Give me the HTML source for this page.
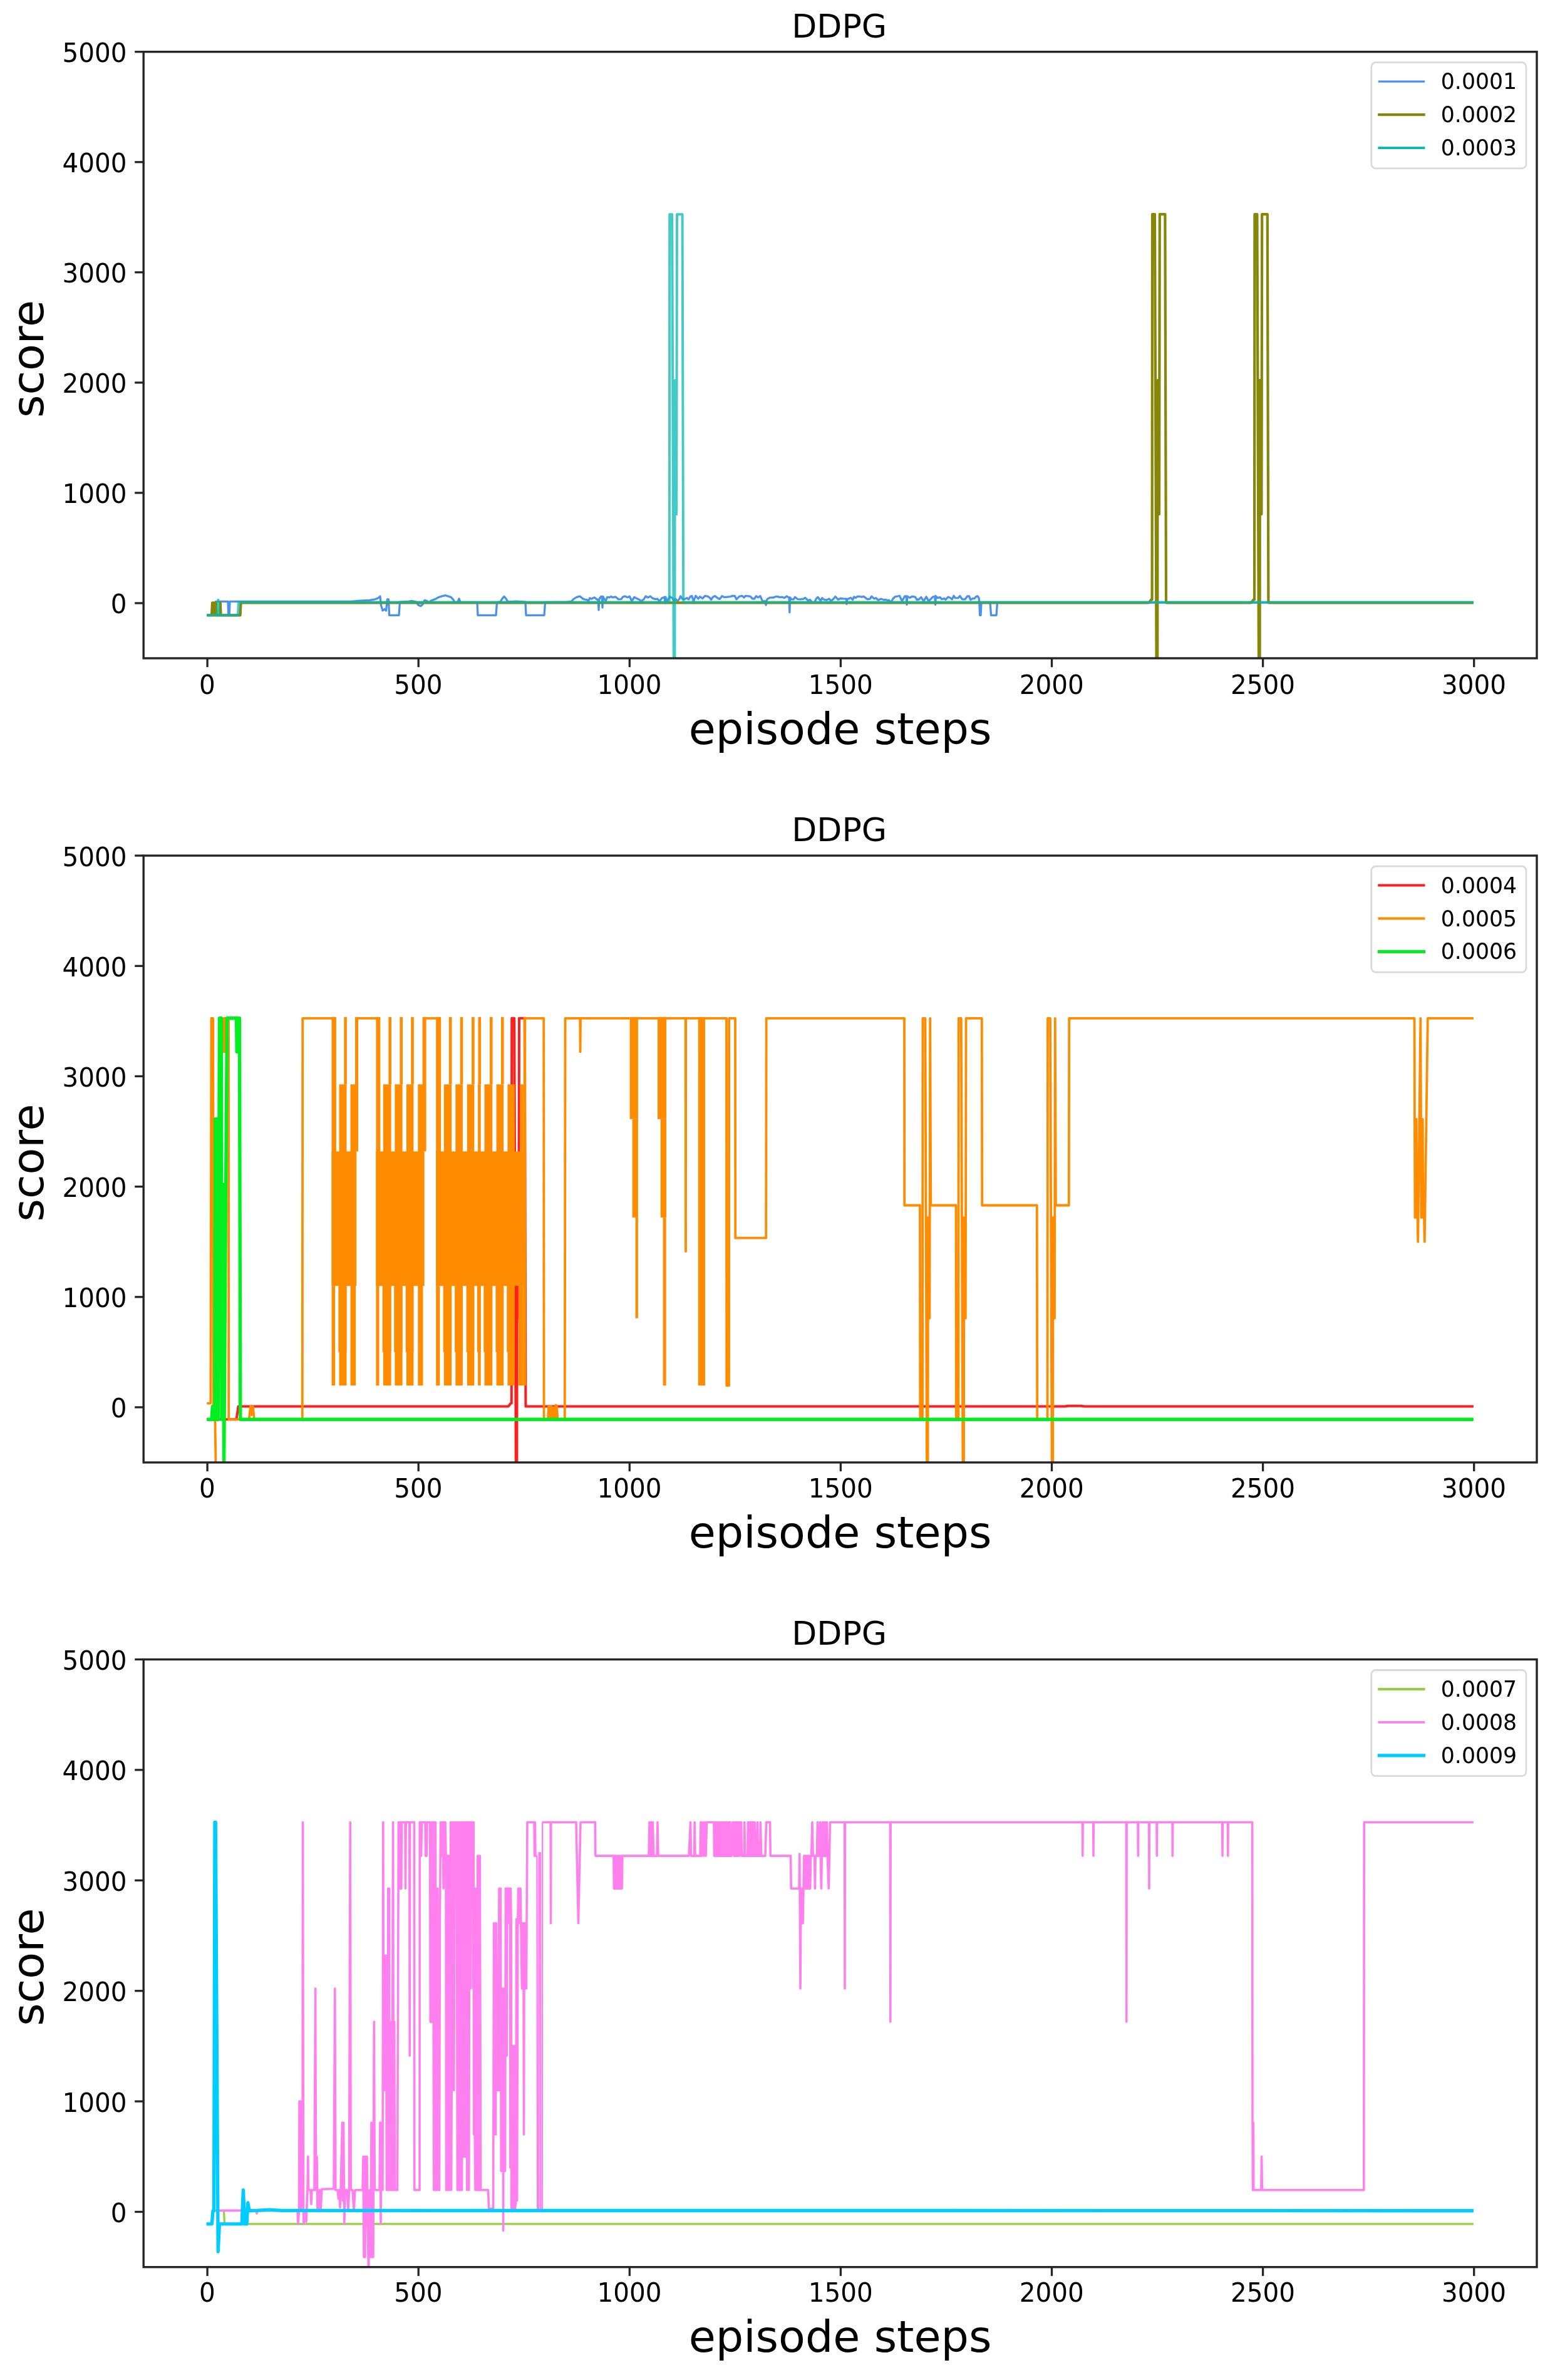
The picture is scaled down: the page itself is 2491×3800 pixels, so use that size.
<!DOCTYPE html>
<html><head><meta charset="utf-8"><title>DDPG</title>
<style>html,body{margin:0;padding:0;background:#fff}svg{display:block}</style></head><body>
<svg width="2491" height="3800" viewBox="0 0 2491 3800" style="filter:blur(0.7px)">
<rect width="2491" height="3800" fill="#fff"/>
<clipPath id="c0"><rect x="229.2" y="82.7" width="2224.8" height="968.3"/></clipPath>
<g clip-path="url(#c0)">
<path d="M330.3,982.3 L343.8,982.3 L344.6,960.3 L364.0,960.3 L364.8,982.3 L366.2,982.3 L367.0,960.3 L381.0,960.3 L560.0,960.3 L575.0,959.1 L590.0,958.4 L600.0,956.6 L605.0,954.2 L607.0,952.1 L608.5,966.5 L611.0,974.9 L614.0,972.7 L616.5,974.9 L618.5,957.0 L620.5,957.0 L621.5,982.3 L637.0,982.3 L638.5,961.2 L652.0,960.5 L658.0,959.5 L664.0,960.9 L668.0,966.1 L672.0,967.6 L675.0,964.7 L678.0,958.4 L682.0,959.5 L685.0,962.6 L688.0,959.1 L695.0,956.6 L700.0,953.8 L705.0,952.1 L711.0,950.6 L716.0,952.1 L720.0,953.3 L724.0,957.7 L726.0,961.9 L731.0,961.2 L733.0,955.9 L735.0,961.6 L762.0,961.6 L763.0,982.3 L792.0,982.3 L793.5,961.6 L799.0,960.9 L802.0,955.9 L805.0,952.4 L808.0,955.9 L811.0,960.9 L825.0,960.2 L839.0,961.2 L840.0,982.3 L869.0,982.3 L870.5,961.6 L905.0,961.2 L912.0,960.5 L916.0,956.3 L921.0,953.3 L926.0,952.1 L930.0,955.6 L933.9,957.2 L937.0,957.3 L939.3,959.8 L941.8,954.9 L944.3,956.2 L949.0,953.9 L953.7,957.4 L955.2,957.4 L956.0,973.9 L956.8,957.4 L956.7,956.8 L959.7,952.4 L961.2,952.4 L962.0,970.0 L962.8,952.4 L963.4,953.5 L967.0,959.8 L969.7,953.3 L972.7,953.9 L975.7,952.5 L978.6,953.9 L983.0,952.9 L987.8,956.9 L992.0,956.7 L994.3,953.3 L997.9,952.0 L1002.0,953.8 L1005.3,952.2 L1008.8,959.8 L1012.8,953.5 L1017.1,955.8 L1021.1,957.5 L1023.7,959.8 L1027.9,956.8 L1031.1,952.0 L1034.5,954.1 L1038.8,952.1 L1042.1,955.4 L1046.8,956.7 L1049.6,956.2 L1053.3,959.8 L1056.6,955.3 L1061.3,953.2 L1061.2,953.2 L1062.0,963.0 L1062.8,953.2 L1065.1,959.8 L1069.6,952.6 L1073.9,955.1 L1076.4,959.8 L1078.8,956.3 L1081.8,959.8 L1084.4,957.0 L1086.7,952.0 L1089.3,956.0 L1092.4,956.9 L1097.2,954.7 L1099.6,957.0 L1102.5,952.3 L1104.8,951.5 L1107.4,959.8 L1110.9,951.3 L1114.9,956.0 L1117.6,952.7 L1121.8,955.5 L1126.1,951.3 L1130.4,952.4 L1133.2,954.3 L1135.5,957.5 L1138.4,953.2 L1141.7,951.6 L1146.4,955.3 L1149.2,956.4 L1153.0,951.8 L1156.5,953.4 L1158.9,953.4 L1163.1,952.8 L1165.8,952.6 L1170.1,951.4 L1173.3,951.5 L1175.9,956.9 L1180.5,952.4 L1184.8,951.3 L1188.0,954.1 L1190.2,951.4 L1193.8,951.6 L1198.2,952.3 L1201.1,955.8 L1204.8,956.0 L1207.3,951.8 L1210.7,953.9 L1214.0,951.7 L1217.6,959.8 L1221.0,959.8 L1222.2,959.8 L1223.0,966.1 L1223.8,959.8 L1225.2,956.6 L1229.3,954.1 L1232.9,954.1 L1235.3,954.0 L1238.3,952.7 L1241.9,952.7 L1245.3,953.7 L1248.8,953.2 L1252.4,954.6 L1256.4,952.0 L1259.3,954.0 L1260.0,954.0 L1260.8,977.6 L1261.6,954.0 L1263.7,956.8 L1267.0,957.2 L1269.4,953.3 L1273.9,956.7 L1277.9,956.8 L1282.6,956.3 L1285.8,954.5 L1290.2,958.8 L1293.7,957.6 L1296.7,961.9 L1300.4,961.9 L1303.5,955.7 L1305.8,953.4 L1310.5,959.1 L1312.8,954.7 L1315.4,957.1 L1319.7,958.1 L1324.3,956.1 L1326.7,959.4 L1330.0,957.2 L1333.9,952.5 L1338.3,957.3 L1341.7,955.5 L1346.3,955.9 L1349.9,956.1 L1351.2,956.1 L1352.0,964.4 L1352.8,956.1 L1352.5,957.4 L1355.5,955.7 L1358.5,954.4 L1361.6,957.6 L1363.8,952.9 L1366.5,954.6 L1369.0,952.4 L1372.5,952.3 L1376.0,953.2 L1379.1,952.3 L1382.9,955.1 L1385.3,956.8 L1389.4,956.0 L1391.8,952.2 L1395.8,955.9 L1398.7,954.7 L1402.1,958.1 L1406.8,956.2 L1411.5,957.8 L1413.7,957.3 L1417.2,958.5 L1419.4,958.1 L1422.7,961.9 L1425.7,956.2 L1429.2,952.8 L1433.3,952.0 L1436.4,951.3 L1440.4,959.8 L1444.8,951.9 L1447.2,951.9 L1448.0,965.4 L1448.8,951.9 L1448.9,952.4 L1452.5,954.4 L1456.8,952.3 L1461.3,953.2 L1464.1,957.5 L1467.2,957.0 L1470.9,953.6 L1474.8,959.8 L1479.1,952.8 L1482.7,959.8 L1486.8,956.0 L1489.7,952.9 L1492.8,952.9 L1493.6,965.4 L1494.4,952.9 L1493.8,951.3 L1497.0,954.6 L1501.2,953.7 L1503.6,956.7 L1507.8,955.7 L1510.0,957.3 L1513.9,953.2 L1516.9,954.3 L1520.3,956.9 L1523.0,951.3 L1525.3,954.7 L1530.0,954.8 L1532.7,951.5 L1536.5,956.8 L1541.1,956.8 L1544.7,951.9 L1547.5,951.8 L1549.7,957.7 L1553.1,955.7 L1556.2,955.6 L1558.4,952.8 L1560.9,951.7 L1563.0,954.5 L1563.8,962.1 L1564.6,982.3 L1566.0,982.3 L1567.0,962.1 L1581.0,961.6 L1582.5,982.3 L1591.0,982.3 L1592.5,962.1 L2352.9,962.1" fill="none" stroke="#4a92ec" stroke-width="3.30" stroke-opacity="1.00" stroke-linejoin="round" stroke-linecap="butt"/>
<path d="M330.3,982.3 L338.0,982.3 L339.0,962.3 L340.0,982.3 L341.0,962.3 L342.0,982.3 L343.0,962.3 L344.0,982.3 L344.8,962.3 L345.6,982.3 L351.0,982.3 L351.8,962.3 L352.6,982.3 L383.6,982.3 L384.6,962.3 L1830.0,962.3 L1834.6,962.3 L1838.4,957.3 L1839.6,957.3 L1840.0,342.2 L1844.0,342.2 L1846.6,1058.0 L1848.2,1058.0 L1848.5,607.2 L1849.0,820.9 L1849.5,607.2 L1850.0,820.9 L1850.5,607.2 L1851.0,820.9 L1851.8,342.2 L1860.4,342.2 L1862.0,962.3 L1990.0,962.3 L1998.0,962.3 L2001.8,957.3 L2003.0,957.3 L2003.4,342.2 L2007.4,342.2 L2010.0,1058.0 L2011.6,1058.0 L2011.9,607.2 L2012.4,820.9 L2012.9,607.2 L2013.4,820.9 L2013.9,607.2 L2014.4,820.9 L2015.2,342.2 L2023.8,342.2 L2025.4,962.3 L2352.9,962.3" fill="none" stroke="#868608" stroke-width="4.20" stroke-opacity="1.00" stroke-linejoin="round" stroke-linecap="butt"/>
<path d="M330.3,982.3 L347.3,982.3 L348.4,957.7 L349.5,982.3 L380.0,982.3 L381.0,961.4 L1060.0,961.4 L1068.8,961.4 L1069.2,342.2 L1073.2,342.2 L1075.8,1058.0 L1077.4,1058.0 L1077.7,607.2 L1078.2,820.9 L1078.7,607.2 L1079.2,820.9 L1079.7,607.2 L1080.2,820.9 L1081.0,342.2 L1089.6,342.2 L1091.2,961.4 L2352.9,961.4" fill="none" stroke="#00b9b2" stroke-width="4.00" stroke-opacity="0.74" stroke-linejoin="round" stroke-linecap="butt"/>
</g>
<line x1="331.1" y1="1051.0" x2="331.1" y2="1065.2" stroke="#242424" stroke-width="3.3"/>
<text transform="translate(330.9,1107.6) scale(0.955,1)" font-size="42.4" text-anchor="middle" font-family="DejaVu Sans, Liberation Sans, sans-serif">0</text>
<line x1="668.2" y1="1051.0" x2="668.2" y2="1065.2" stroke="#242424" stroke-width="3.3"/>
<text transform="translate(668.0,1107.6) scale(0.955,1)" font-size="42.4" text-anchor="middle" font-family="DejaVu Sans, Liberation Sans, sans-serif">500</text>
<line x1="1005.3" y1="1051.0" x2="1005.3" y2="1065.2" stroke="#242424" stroke-width="3.3"/>
<text transform="translate(1005.1,1107.6) scale(0.955,1)" font-size="42.4" text-anchor="middle" font-family="DejaVu Sans, Liberation Sans, sans-serif">1000</text>
<line x1="1342.4" y1="1051.0" x2="1342.4" y2="1065.2" stroke="#242424" stroke-width="3.3"/>
<text transform="translate(1342.2,1107.6) scale(0.955,1)" font-size="42.4" text-anchor="middle" font-family="DejaVu Sans, Liberation Sans, sans-serif">1500</text>
<line x1="1679.5" y1="1051.0" x2="1679.5" y2="1065.2" stroke="#242424" stroke-width="3.3"/>
<text transform="translate(1679.3,1107.6) scale(0.955,1)" font-size="42.4" text-anchor="middle" font-family="DejaVu Sans, Liberation Sans, sans-serif">2000</text>
<line x1="2016.6" y1="1051.0" x2="2016.6" y2="1065.2" stroke="#242424" stroke-width="3.3"/>
<text transform="translate(2016.4,1107.6) scale(0.955,1)" font-size="42.4" text-anchor="middle" font-family="DejaVu Sans, Liberation Sans, sans-serif">2500</text>
<line x1="2353.7" y1="1051.0" x2="2353.7" y2="1065.2" stroke="#242424" stroke-width="3.3"/>
<text transform="translate(2353.5,1107.6) scale(0.955,1)" font-size="42.4" text-anchor="middle" font-family="DejaVu Sans, Liberation Sans, sans-serif">3000</text>
<line x1="215.2" y1="963.0" x2="229.2" y2="963.0" stroke="#242424" stroke-width="3.3"/>
<text transform="translate(202.4,979.4) scale(0.955,1)" font-size="42.4" text-anchor="end" font-family="DejaVu Sans, Liberation Sans, sans-serif">0</text>
<line x1="215.2" y1="786.9" x2="229.2" y2="786.9" stroke="#242424" stroke-width="3.3"/>
<text transform="translate(202.4,803.3) scale(0.955,1)" font-size="42.4" text-anchor="end" font-family="DejaVu Sans, Liberation Sans, sans-serif">1000</text>
<line x1="215.2" y1="610.9" x2="229.2" y2="610.9" stroke="#242424" stroke-width="3.3"/>
<text transform="translate(202.4,627.3) scale(0.955,1)" font-size="42.4" text-anchor="end" font-family="DejaVu Sans, Liberation Sans, sans-serif">2000</text>
<line x1="215.2" y1="434.8" x2="229.2" y2="434.8" stroke="#242424" stroke-width="3.3"/>
<text transform="translate(202.4,451.2) scale(0.955,1)" font-size="42.4" text-anchor="end" font-family="DejaVu Sans, Liberation Sans, sans-serif">3000</text>
<line x1="215.2" y1="258.8" x2="229.2" y2="258.8" stroke="#242424" stroke-width="3.3"/>
<text transform="translate(202.4,275.2) scale(0.955,1)" font-size="42.4" text-anchor="end" font-family="DejaVu Sans, Liberation Sans, sans-serif">4000</text>
<line x1="215.2" y1="82.7" x2="229.2" y2="82.7" stroke="#242424" stroke-width="3.3"/>
<text transform="translate(202.4,99.1) scale(0.955,1)" font-size="42.4" text-anchor="end" font-family="DejaVu Sans, Liberation Sans, sans-serif">5000</text>
<rect x="229.2" y="82.7" width="2224.8" height="968.3" fill="none" stroke="#242424" stroke-width="3.4"/>
<text x="1340.2" y="60.1" font-size="52" text-anchor="middle" font-family="DejaVu Sans, Liberation Sans, sans-serif">DDPG</text>
<text x="1341.6" y="1188.0" font-size="70" text-anchor="middle" font-family="DejaVu Sans, Liberation Sans, sans-serif">episode steps</text>
<text transform="translate(69.0,572.9) rotate(-90)" font-size="70" text-anchor="middle" font-family="DejaVu Sans, Liberation Sans, sans-serif">score</text>
<rect x="2189.8" y="99.7" width="247.2" height="169.2" rx="7" ry="7" fill="#fff" fill-opacity="0.8" stroke="#dadada" stroke-width="2.8"/>
<line x1="2202.3" y1="130.2" x2="2273.5" y2="130.2" stroke="#4a92ec" stroke-width="3.2" stroke-linecap="square"/>
<text x="2300.8" y="142.1" font-size="34.7" font-family="DejaVu Sans, Liberation Sans, sans-serif">0.0001</text>
<line x1="2202.3" y1="183.1" x2="2273.5" y2="183.1" stroke="#868608" stroke-width="4.4" stroke-linecap="square"/>
<text x="2300.8" y="195.1" font-size="34.7" font-family="DejaVu Sans, Liberation Sans, sans-serif">0.0002</text>
<line x1="2202.3" y1="236.1" x2="2273.5" y2="236.1" stroke="#00b9b2" stroke-width="3.8" stroke-linecap="square"/>
<text x="2300.8" y="248.0" font-size="34.7" font-family="DejaVu Sans, Liberation Sans, sans-serif">0.0003</text>
<clipPath id="c1"><rect x="229.2" y="1366.1" width="2224.8" height="968.9"/></clipPath>
<g clip-path="url(#c1)">
<path d="M330.3,2266.3 L377.5,2266.3 L380.5,2245.5 L808.0,2245.5 L811.8,2245.5 L815.6,2240.6 L816.8,2240.6 L817.2,1625.8 L821.2,1625.8 L823.8,2342.0 L825.4,2342.0 L825.7,1890.9 L826.2,2104.8 L826.7,1890.9 L827.2,2104.8 L827.7,1890.9 L828.2,2104.8 L829.0,1625.8 L837.8,1625.8 L839.4,2245.5 L1700.0,2245.5 L1706.0,2244.8 L1726.0,2244.8 L1732.0,2245.5 L2352.9,2245.5" fill="none" stroke="#ff1e1e" stroke-width="4.00" stroke-opacity="1.00" stroke-linejoin="round" stroke-linecap="butt"/>
<path d="M330.3,2240.6 L336.4,2240.6 L337.4,1625.8 L340.2,1625.8 L341.0,2266.3 L343.4,2266.3 L344.6,2342.0" fill="none" stroke="#ff8c00" stroke-width="3.80" stroke-opacity="1.00" stroke-linejoin="round" stroke-linecap="butt"/>
<path d="M355.8,1625.8 L356.4,1679.3 L357.1,1625.8 L357.9,1679.3 L358.6,1625.8 L359.4,1679.3 L360.1,1625.8 L361.0,1625.8 L365.0,1625.8 L365.2,2266.3 L397.7,2266.3 L400.0,2245.5 L401.8,2259.2 L403.8,2245.5 L406.0,2266.3 L482.8,2266.3 L483.2,1625.8 L531.0,1625.8" fill="none" stroke="#ff8c00" stroke-width="3.80" stroke-opacity="1.00" stroke-linejoin="round" stroke-linecap="butt"/>
<rect x="529.5" y="1838.4" width="39.7" height="214.7" fill="#ff8c00"/>
<rect x="529.5" y="1623.8" width="7.4" height="429.3" fill="#ff8c00"/>
<rect x="529.5" y="2053.1" width="5.6" height="159.1" fill="#ff8c00"/>
<rect x="541.5" y="1731.3" width="12.0" height="480.9" fill="#ff8c00"/>
<rect x="540.3" y="2053.1" width="13.2" height="105.7" fill="#ff8c00"/>
<rect x="549.3" y="1623.8" width="4.6" height="107.5" fill="#ff8c00"/>
<rect x="567.0" y="1623.8" width="5.0" height="214.6" fill="#ff8c00"/>
<rect x="559.5" y="1731.3" width="8.6" height="480.9" fill="#ff8c00"/>
<rect x="600.4" y="1838.4" width="77.3" height="214.7" fill="#ff8c00"/>
<rect x="600.4" y="1623.8" width="6.9" height="429.3" fill="#ff8c00"/>
<rect x="600.4" y="2053.1" width="5.1" height="159.1" fill="#ff8c00"/>
<rect x="611.9" y="1731.3" width="12.7" height="480.9" fill="#ff8c00"/>
<rect x="610.7" y="2053.1" width="13.9" height="105.7" fill="#ff8c00"/>
<rect x="620.4" y="1623.8" width="4.6" height="107.5" fill="#ff8c00"/>
<rect x="630.4" y="1731.3" width="12.2" height="480.9" fill="#ff8c00"/>
<rect x="629.2" y="2053.1" width="13.4" height="105.7" fill="#ff8c00"/>
<rect x="638.4" y="1623.8" width="4.6" height="107.5" fill="#ff8c00"/>
<rect x="648.9" y="1731.3" width="11.5" height="480.9" fill="#ff8c00"/>
<rect x="647.7" y="2053.1" width="12.7" height="105.7" fill="#ff8c00"/>
<rect x="656.2" y="1623.8" width="4.6" height="107.5" fill="#ff8c00"/>
<rect x="674.6" y="1623.8" width="6.0" height="214.6" fill="#ff8c00"/>
<rect x="667.3" y="1731.3" width="8.1" height="480.9" fill="#ff8c00"/>
<rect x="696.2" y="1838.4" width="143.1" height="214.7" fill="#ff8c00"/>
<rect x="696.2" y="1623.8" width="8.0" height="429.3" fill="#ff8c00"/>
<rect x="696.2" y="2053.1" width="6.2" height="159.1" fill="#ff8c00"/>
<rect x="708.9" y="1731.3" width="12.2" height="480.9" fill="#ff8c00"/>
<rect x="707.7" y="2053.1" width="13.4" height="105.7" fill="#ff8c00"/>
<rect x="716.9" y="1623.8" width="4.6" height="107.5" fill="#ff8c00"/>
<rect x="727.3" y="1731.3" width="11.6" height="480.9" fill="#ff8c00"/>
<rect x="726.1" y="2053.1" width="12.8" height="105.7" fill="#ff8c00"/>
<rect x="734.7" y="1623.8" width="4.6" height="107.5" fill="#ff8c00"/>
<rect x="745.8" y="1731.3" width="11.5" height="480.9" fill="#ff8c00"/>
<rect x="744.6" y="2053.1" width="12.7" height="105.7" fill="#ff8c00"/>
<rect x="753.1" y="1623.8" width="4.6" height="107.5" fill="#ff8c00"/>
<rect x="763.1" y="1731.3" width="4.6" height="480.9" fill="#ff8c00"/>
<rect x="761.9" y="2053.1" width="5.8" height="105.7" fill="#ff8c00"/>
<rect x="763.5" y="1623.8" width="4.6" height="107.5" fill="#ff8c00"/>
<rect x="773.5" y="1731.3" width="12.7" height="480.9" fill="#ff8c00"/>
<rect x="772.3" y="2053.1" width="13.9" height="105.7" fill="#ff8c00"/>
<rect x="782.0" y="1623.8" width="4.6" height="107.5" fill="#ff8c00"/>
<rect x="792.6" y="1731.3" width="11.6" height="480.9" fill="#ff8c00"/>
<rect x="791.4" y="2053.1" width="12.8" height="105.7" fill="#ff8c00"/>
<rect x="800.0" y="1623.8" width="4.6" height="107.5" fill="#ff8c00"/>
<rect x="810.4" y="1731.3" width="11.6" height="480.9" fill="#ff8c00"/>
<rect x="809.2" y="2053.1" width="12.8" height="105.7" fill="#ff8c00"/>
<rect x="830.4" y="1731.3" width="5.4" height="107.1" fill="#ff8c00"/>
<rect x="827.7" y="2053.1" width="8.1" height="159.1" fill="#ff8c00"/>
<rect x="835.8" y="1623.8" width="4.4" height="588.4" fill="#ff8c00"/>
<path d="M570.0,1625.8 L602.0,1625.8" fill="none" stroke="#ff8c00" stroke-width="3.80" stroke-opacity="1.00" stroke-linejoin="round" stroke-linecap="butt"/>
<path d="M678.5,1625.8 L698.0,1625.8" fill="none" stroke="#ff8c00" stroke-width="3.80" stroke-opacity="1.00" stroke-linejoin="round" stroke-linecap="butt"/>
<path d="M838.0,1625.8 L868.2,1625.8 L868.6,2266.3 L875.0,2266.3 L876.0,2245.5 L880.0,2245.5 L882.0,2255.7 L886.0,2257.5 L887.5,2243.4 L889.0,2245.5 L890.5,2266.3 L901.8,2266.3 L902.6,1625.8 L926.2,1625.8 L926.6,1679.3 L927.0,1625.8 L1005.6,1625.8" fill="none" stroke="#ff8c00" stroke-width="3.80" stroke-opacity="1.00" stroke-linejoin="round" stroke-linecap="butt"/>
<path d="M876,2245.5 L890,2245.5 L890,2266.3 L876,2266.3 Z" fill="#ff8c00"/>
<rect x="1005.6" y="1623.8" width="13.3" height="163.0" fill="#ff8c00"/>
<rect x="1009.6" y="1786.8" width="9.3" height="157.1" fill="#ff8c00"/>
<rect x="1014.6" y="1943.9" width="4.3" height="160.8" fill="#ff8c00"/>
<path d="M1017.0,1625.8 L1058.4,1625.8" fill="none" stroke="#ff8c00" stroke-width="3.80" stroke-opacity="1.00" stroke-linejoin="round" stroke-linecap="butt"/>
<rect x="1050.0" y="1623.8" width="14.0" height="163.0" fill="#ff8c00"/>
<rect x="1054.7" y="1786.8" width="9.3" height="157.1" fill="#ff8c00"/>
<rect x="1058.6" y="1943.9" width="5.0" height="268.3" fill="#ff8c00"/>
<rect x="1050.0" y="1623.8" width="8.4" height="6.5" fill="#ff8c00"/>
<path d="M1063.4,1625.8 L1094.8,1625.8 L1095.0,1998.0 L1095.2,1625.8 L1116.0,1625.8" fill="none" stroke="#ff8c00" stroke-width="3.80" stroke-opacity="1.00" stroke-linejoin="round" stroke-linecap="butt"/>
<rect x="1114.8" y="1623.8" width="11.2" height="588.4" fill="#ff8c00"/>
<path d="M1124.0,1625.8 L1160.0,1625.8 L1160.2,2212.2 L1164.0,2212.2 L1164.2,1625.8 L1174.0,1625.8 L1174.2,1976.7 L1223.2,1976.7 L1223.6,1625.8 L1444.0,1625.8 L1444.2,1924.5 L1469.0,1924.5 L1469.3,2266.3 L1471.5,2266.3 L1473.0,2266.3 L1473.4,1625.8 L1477.4,1625.8 L1480.0,2342.0 L1481.6,2342.0 L1481.9,1943.9 L1482.4,2104.8 L1482.9,1943.9 L1483.4,2104.8 L1483.9,1943.9 L1484.4,2104.8 L1485.2,1625.8 L1486.3,1924.5 L1526.5,1924.5 L1526.8,2266.3 L1529.0,2266.3 L1530.4,2266.3 L1530.8,1625.8 L1534.8,1625.8 L1537.4,2342.0 L1539.0,2342.0 L1539.3,1943.9 L1539.8,2104.8 L1540.3,1943.9 L1540.8,2104.8 L1541.3,1943.9 L1541.8,2104.8 L1542.6,1625.8 L1567.8,1625.8 L1568.2,1924.5 L1655.8,1924.5 L1656.2,2266.3 L1671.5,2266.3 L1672.6,2266.3 L1673.0,1625.8 L1677.0,1625.8 L1679.6,2342.0 L1681.2,2342.0 L1681.5,1943.9 L1682.0,2104.8 L1682.5,1943.9 L1683.0,2104.8 L1683.5,1943.9 L1684.0,2104.8 L1684.8,1625.8 L1685.9,1924.5 L1706.8,1924.5 L1707.2,1625.8 L2258.6,1625.8 L2258.9,1786.8 L2259.4,1943.9 L2260.2,1786.8 L2260.9,1943.9 L2261.7,1786.8 L2262.4,1943.9 L2263.6,1943.9 L2264.2,1982.7 L2268.3,1625.8 L2269.0,1786.8 L2269.4,1943.9 L2270.2,1786.8 L2270.9,1943.9 L2271.7,1786.8 L2272.4,1943.9 L2274.0,1943.9 L2274.8,1982.7 L2279.8,1625.8 L2352.9,1625.8" fill="none" stroke="#ff8c00" stroke-width="3.80" stroke-opacity="1.00" stroke-linejoin="round" stroke-linecap="butt"/>
<path d="M330.3,2266.3 L338.0,2266.3 L339.4,2245.5 L340.8,2266.3 L342.2,2245.5 L343.2,2266.3 L343.8,1786.8 L344.8,2266.3 L345.7,1786.8 L346.6,2266.3 L347.6,1786.8 L348.6,2266.3 L350.4,1625.8 L353.4,1625.8 L354.4,2266.3 L355.0,1890.9 L355.7,2266.3 L356.4,1890.9 L357.6,2342.0 L362.5,1625.8 L377.6,1625.8 L378.2,1679.3 L379.0,1625.8 L379.8,1679.3 L380.6,1625.8 L382.4,1625.8 L383.8,2266.3 L2352.9,2266.3" fill="none" stroke="#00ee22" stroke-width="5.40" stroke-opacity="1.00" stroke-linejoin="round" stroke-linecap="butt"/>
</g>
<line x1="331.1" y1="2335.0" x2="331.1" y2="2349.2" stroke="#242424" stroke-width="3.3"/>
<text transform="translate(330.9,2390.9) scale(0.955,1)" font-size="42.4" text-anchor="middle" font-family="DejaVu Sans, Liberation Sans, sans-serif">0</text>
<line x1="668.2" y1="2335.0" x2="668.2" y2="2349.2" stroke="#242424" stroke-width="3.3"/>
<text transform="translate(668.0,2390.9) scale(0.955,1)" font-size="42.4" text-anchor="middle" font-family="DejaVu Sans, Liberation Sans, sans-serif">500</text>
<line x1="1005.3" y1="2335.0" x2="1005.3" y2="2349.2" stroke="#242424" stroke-width="3.3"/>
<text transform="translate(1005.1,2390.9) scale(0.955,1)" font-size="42.4" text-anchor="middle" font-family="DejaVu Sans, Liberation Sans, sans-serif">1000</text>
<line x1="1342.4" y1="2335.0" x2="1342.4" y2="2349.2" stroke="#242424" stroke-width="3.3"/>
<text transform="translate(1342.2,2390.9) scale(0.955,1)" font-size="42.4" text-anchor="middle" font-family="DejaVu Sans, Liberation Sans, sans-serif">1500</text>
<line x1="1679.5" y1="2335.0" x2="1679.5" y2="2349.2" stroke="#242424" stroke-width="3.3"/>
<text transform="translate(1679.3,2390.9) scale(0.955,1)" font-size="42.4" text-anchor="middle" font-family="DejaVu Sans, Liberation Sans, sans-serif">2000</text>
<line x1="2016.6" y1="2335.0" x2="2016.6" y2="2349.2" stroke="#242424" stroke-width="3.3"/>
<text transform="translate(2016.4,2390.9) scale(0.955,1)" font-size="42.4" text-anchor="middle" font-family="DejaVu Sans, Liberation Sans, sans-serif">2500</text>
<line x1="2353.7" y1="2335.0" x2="2353.7" y2="2349.2" stroke="#242424" stroke-width="3.3"/>
<text transform="translate(2353.5,2390.9) scale(0.955,1)" font-size="42.4" text-anchor="middle" font-family="DejaVu Sans, Liberation Sans, sans-serif">3000</text>
<line x1="215.2" y1="2246.9" x2="229.2" y2="2246.9" stroke="#242424" stroke-width="3.3"/>
<text transform="translate(202.4,2263.3) scale(0.955,1)" font-size="42.4" text-anchor="end" font-family="DejaVu Sans, Liberation Sans, sans-serif">0</text>
<line x1="215.2" y1="2070.8" x2="229.2" y2="2070.8" stroke="#242424" stroke-width="3.3"/>
<text transform="translate(202.4,2087.2) scale(0.955,1)" font-size="42.4" text-anchor="end" font-family="DejaVu Sans, Liberation Sans, sans-serif">1000</text>
<line x1="215.2" y1="1894.6" x2="229.2" y2="1894.6" stroke="#242424" stroke-width="3.3"/>
<text transform="translate(202.4,1911.0) scale(0.955,1)" font-size="42.4" text-anchor="end" font-family="DejaVu Sans, Liberation Sans, sans-serif">2000</text>
<line x1="215.2" y1="1718.4" x2="229.2" y2="1718.4" stroke="#242424" stroke-width="3.3"/>
<text transform="translate(202.4,1734.8) scale(0.955,1)" font-size="42.4" text-anchor="end" font-family="DejaVu Sans, Liberation Sans, sans-serif">3000</text>
<line x1="215.2" y1="1542.3" x2="229.2" y2="1542.3" stroke="#242424" stroke-width="3.3"/>
<text transform="translate(202.4,1558.7) scale(0.955,1)" font-size="42.4" text-anchor="end" font-family="DejaVu Sans, Liberation Sans, sans-serif">4000</text>
<line x1="215.2" y1="1366.1" x2="229.2" y2="1366.1" stroke="#242424" stroke-width="3.3"/>
<text transform="translate(202.4,1382.5) scale(0.955,1)" font-size="42.4" text-anchor="end" font-family="DejaVu Sans, Liberation Sans, sans-serif">5000</text>
<rect x="229.2" y="1366.1" width="2224.8" height="968.9" fill="none" stroke="#242424" stroke-width="3.4"/>
<text x="1340.2" y="1343.2" font-size="52" text-anchor="middle" font-family="DejaVu Sans, Liberation Sans, sans-serif">DDPG</text>
<text x="1341.6" y="2471.3" font-size="70" text-anchor="middle" font-family="DejaVu Sans, Liberation Sans, sans-serif">episode steps</text>
<text transform="translate(69.0,1856.5) rotate(-90)" font-size="70" text-anchor="middle" font-family="DejaVu Sans, Liberation Sans, sans-serif">score</text>
<rect x="2189.8" y="1383.1" width="247.2" height="169.2" rx="7" ry="7" fill="#fff" fill-opacity="0.8" stroke="#dadada" stroke-width="2.8"/>
<line x1="2202.3" y1="1413.6" x2="2273.5" y2="1413.6" stroke="#ff1e1e" stroke-width="4.0" stroke-linecap="square"/>
<text x="2300.8" y="1425.5" font-size="34.7" font-family="DejaVu Sans, Liberation Sans, sans-serif">0.0004</text>
<line x1="2202.3" y1="1466.5" x2="2273.5" y2="1466.5" stroke="#ff8c00" stroke-width="3.8" stroke-linecap="square"/>
<text x="2300.8" y="1478.5" font-size="34.7" font-family="DejaVu Sans, Liberation Sans, sans-serif">0.0005</text>
<line x1="2202.3" y1="1519.5" x2="2273.5" y2="1519.5" stroke="#00ee22" stroke-width="5.2" stroke-linecap="square"/>
<text x="2300.8" y="1531.4" font-size="34.7" font-family="DejaVu Sans, Liberation Sans, sans-serif">0.0006</text>
<clipPath id="c2"><rect x="229.2" y="2649.5" width="2224.8" height="970.2"/></clipPath>
<g clip-path="url(#c2)">
<path d="M330.3,3550.9 L339.0,3550.9 L340.5,3529.7 L357.5,3529.7 L358.5,3550.9 L2352.9,3550.9" fill="none" stroke="#93d23f" stroke-width="3.30" stroke-opacity="1.00" stroke-linejoin="round" stroke-linecap="butt"/>
<path d="M340.0,3529.4 L409.0,3529.4 L410.0,3534.1 L411.0,3529.4 L474.0,3529.4 L475.0,3529.7 L476.0,3550.9 L477.5,3529.7 L478.0,3355.1 L478.9,3529.7 L479.8,3355.1 L480.7,3529.7 L481.6,3355.1 L483.0,3529.7 L483.5,2909.5 L484.5,3529.7 L485.0,3550.9 L487.0,3529.7 L489.0,3547.4 L491.0,3496.7 L491.8,3443.3 L492.6,3496.7 L496.0,3496.7 L497.0,3519.2 L498.0,3496.7 L502.0,3496.7 L503.6,3175.0 L504.6,3496.7 L506.0,3443.3 L507.0,3530.1 L508.5,3496.7 L509.5,3530.1 L511.0,3496.7 L512.0,3530.1 L513.8,3495.3 L533.0,3494.8 L534.8,3175.0 L535.8,3496.7 L539.0,3496.7 L540.5,3510.3 L541.5,3496.7 L543.0,3524.4 L544.0,3499.7 L546.5,3389.1 L547.5,3513.9 L548.5,3389.1 L549.8,3550.9 L551.0,3496.7 L554.0,3496.7 L556.0,3530.1 L557.5,3496.7 L559.2,2909.5 L560.2,3496.7 L563.0,3496.7 L565.0,3530.1 L567.0,3496.7 L578.0,3496.7 L579.0,3496.7 L580.0,3443.3 L581.0,3603.8 L582.0,3443.3 L583.0,3603.8 L584.0,3443.3 L585.0,3550.9 L586.0,3443.3 L587.0,3550.9 L588.6,3626.8 L590.0,3496.7 L591.0,3550.9 L592.0,3603.8 L593.0,3389.1 L594.0,3603.8 L595.0,3389.1 L596.0,3603.8 L597.3,3228.1 L598.3,3496.7 L606.0,3496.7 L607.0,3389.1 L608.0,3550.9 L609.0,3389.1 L610.0,3496.7 L611.0,3496.7 L611.8,2909.5 L612.6,3337.5 L613.4,3122.4 L614.2,3337.5 L615.0,3122.4 L615.8,3337.5 L616.6,3122.4 L617.4,3496.7 L618.2,3122.4 L619.0,3496.7 L619.8,3015.2 L620.6,3496.7 L621.4,3015.2 L622.2,3496.7 L623.0,3228.1 L624.0,3496.7 L625.0,3228.1 L626.0,3496.7 L627.6,2909.5 L628.6,3496.7 L629.6,3228.1 L630.6,3496.7 L634.5,3496.7 L636.4,2909.5 L637.2,3015.2 L638.1,2909.5 L639.0,3015.2 L639.9,2909.5 L640.8,3015.2 L641.4,2909.5 L647.0,2909.5 L647.4,3015.2 L648.2,2909.5 L653.8,2909.5 L654.2,3282.2 L654.6,2909.5 L661.4,2909.5 L661.7,3496.7 L670.0,3496.7 L670.2,2909.5 L671.0,2963.1 L671.8,2909.5 L672.6,2963.1 L673.4,2909.5 L679.0,2909.5 L679.6,2963.1 L680.4,2909.5 L681.2,2963.1 L682.0,2909.5 L682.8,2909.5 L686.6,2909.5 L687.2,3228.1 L688.1,2909.5 L688.9,3228.1 L689.8,2909.5 L690.6,3228.1 L691.5,2909.5 L692.8,3496.7 L693.6,2909.5 L694.5,3496.7 L695.4,2909.5 L696.2,3496.7 L697.1,3015.2 L697.9,3496.7 L698.8,3015.2 L699.8,3496.7 L700.6,3070.7 L701.5,3496.7 L702.4,3070.7 L703.6,2909.5 L704.4,2963.1 L705.2,2909.5 L706.0,2963.1 L706.8,2909.5 L708.2,3015.2 L709.0,2909.5 L710.0,2963.1 L711.0,2909.5 L712.0,2963.1 L712.6,3496.7 L713.5,2963.1 L714.4,3496.7 L715.3,2963.1 L716.2,3496.7 L717.1,2963.1 L718.0,3496.7 L718.8,3496.7 L719.7,2909.5 L720.6,3496.7 L721.2,3337.5 L722.1,2909.5 L723.0,3337.5 L723.9,2909.5 L724.8,3337.5 L725.8,3015.2 L726.7,2909.5 L727.6,3015.2 L728.5,2909.5 L729.4,3015.2 L730.4,3496.7 L731.3,2909.5 L732.2,3496.7 L733.1,2909.5 L734.0,3496.7 L734.9,2909.5 L735.8,3496.7 L736.7,2909.5 L737.6,3496.7 L738.5,2909.5 L739.8,3443.3 L740.7,2909.5 L741.6,3443.3 L742.5,2909.5 L743.4,3443.3 L744.0,3015.2 L744.6,2909.5 L745.2,3015.2 L745.8,3496.7 L746.4,2909.5 L748.4,2909.5 L748.8,3496.7 L749.6,2909.5 L751.0,2909.5 L751.4,3175.0 L752.2,2909.5 L755.2,2909.5 L755.6,3175.0 L756.2,2909.5 L756.6,3408.0 L757.4,3015.2 L758.2,3408.0 L759.0,3496.7 L759.9,3015.2 L760.8,3496.7 L761.8,3496.7 L762.7,2963.1 L763.6,3496.7 L764.5,2963.1 L765.4,3496.7 L766.3,2963.1 L767.6,3496.7 L779.5,3496.7 L780.6,3526.2 L787.6,3526.2 L788.6,3070.7 L789.6,3408.0 L790.5,3070.7 L791.5,3408.0 L792.4,3070.7 L793.2,3175.0 L794.0,3337.5 L794.8,3175.0 L795.6,3337.5 L797.0,3015.2 L797.6,3337.5 L798.2,3015.2 L798.8,3337.5 L799.4,3015.2 L800.2,3466.2 L801.1,3175.0 L802.0,3466.2 L802.9,3175.0 L803.6,3561.5 L804.2,3175.0 L805.0,3466.2 L805.8,3175.0 L806.6,3466.2 L807.4,3015.2 L808.0,3070.7 L808.8,3015.2 L809.2,3282.2 L809.8,3015.2 L810.6,3070.7 L811.4,3015.2 L812.2,3070.7 L813.0,3015.2 L813.8,3070.7 L814.6,3015.2 L814.9,3460.9 L815.4,3015.2 L816.2,3070.7 L816.8,3530.1 L817.7,3266.9 L818.6,3530.1 L819.5,3266.9 L820.4,3530.1 L821.3,3266.9 L822.2,3530.1 L823.8,3513.9 L824.7,3064.0 L825.6,3513.9 L826.8,3070.7 L827.6,3015.2 L828.5,3070.7 L829.4,3015.2 L830.2,3070.7 L831.1,3015.2 L831.9,3070.7 L833.4,3175.0 L834.2,3070.7 L835.0,3175.0 L835.8,3070.7 L836.5,3408.0 L837.0,3175.0 L837.9,3070.7 L838.7,3175.0 L839.6,3070.7 L840.4,3175.0 L842.0,2909.5 L853.0,2909.5 L853.6,2963.1 L854.3,2909.5 L855.0,2963.1 L856.4,2963.1 L857.4,2963.1" fill="none" stroke="#ff7fee" stroke-width="3.60" stroke-opacity="1.00" stroke-linejoin="round" stroke-linecap="butt"/>
<path d="M857.4,2963.1 L858.2,3530.1 L860.3,3530.1 L860.6,2958.2 L862.8,2958.2 L863.2,3530.1 L865.8,3530.1 L866.2,2909.5" fill="none" stroke="#ff7fee" stroke-width="2.30" stroke-opacity="1.00" stroke-linejoin="round" stroke-linecap="butt"/>
<path d="M866.0,2909.5 L879.2,2909.5 L879.5,3070.7 L879.8,2909.5 L920.0,2909.5 L923.5,3070.7 L927.0,2909.5 L950.4,2909.5 L950.8,2963.1 L979.8,2963.1 L980.4,3015.2 L981.3,2963.1 L982.2,3015.2 L983.1,2963.1 L984.0,3015.2 L984.9,2963.1 L985.8,3015.2 L986.7,2963.1 L987.6,3015.2 L988.5,2963.1 L989.4,3015.2 L990.3,2963.1 L991.2,3015.2 L992.1,2963.1 L993.0,3015.2 L993.9,2963.1 L995.0,2963.1 L1036.0,2963.1 L1037.0,2909.5 L1037.9,2963.1 L1038.8,2909.5 L1039.7,2963.1 L1040.6,2909.5 L1041.5,2963.1 L1042.4,2909.5 L1043.6,2963.1 L1049.0,2963.1 L1050.0,2909.5 L1051.0,2963.1 L1100.0,2963.1 L1102.6,2909.5 L1103.4,2963.1 L1108.6,2963.1 L1109.2,2909.5 L1110.0,2963.1 L1118.0,2963.1 L1119.0,2909.5 L1120.6,2963.1 L1122.2,2909.5 L1123.8,2963.1 L1125.4,2909.5 L1127.0,2963.1 L1128.6,2909.5 L1129.0,2909.5 L1140.0,2909.5 L1140.4,2963.1 L1141.2,2909.5 L1142.2,2963.1 L1143.1,2909.5 L1144.1,2963.1 L1145.0,2909.5 L1146.0,2963.1 L1146.9,2909.5 L1147.9,2963.1 L1148.8,2909.5 L1149.8,2963.1 L1150.7,2909.5 L1151.7,2963.1 L1152.6,2909.5 L1153.6,2963.1 L1154.5,2909.5 L1155.5,2963.1 L1156.4,2909.5 L1157.4,2963.1 L1158.3,2909.5 L1159.3,2963.1 L1160.2,2909.5 L1161.2,2963.1 L1162.1,2909.5 L1163.1,2963.1 L1164.0,2909.5 L1165.0,2963.1 L1165.9,2909.5 L1166.9,2963.1 L1168.2,2963.1 L1170.0,2909.5 L1172.0,2963.1 L1172.8,2909.5 L1173.7,2963.1 L1174.6,2909.5 L1175.5,2963.1 L1176.4,2909.5 L1177.3,2963.1 L1178.2,2909.5 L1179.1,2963.1 L1180.0,2909.5 L1180.9,2963.1 L1181.8,2909.5 L1183.6,2909.5 L1184.4,2963.1 L1188.2,2963.1 L1188.8,2909.5 L1189.6,2963.1 L1193.6,2963.1 L1194.4,2909.5 L1195.3,2963.1 L1196.2,2909.5 L1197.1,2963.1 L1198.0,2909.5 L1198.9,2963.1 L1199.8,2909.5 L1200.7,2963.1 L1201.6,2909.5 L1202.5,2963.1 L1203.4,2909.5 L1204.3,2963.1 L1205.2,2909.5 L1206.0,2963.1 L1208.0,2963.1 L1209.6,2909.5 L1210.4,2963.1 L1213.4,2963.1 L1214.4,2909.5 L1215.6,2963.1 L1222.0,2963.1 L1223.6,2909.5 L1229.6,2909.5 L1230.2,2963.1 L1262.6,2963.1 L1263.2,3015.2 L1276.0,3015.2 L1276.8,2960.0 L1278.0,3175.0 L1279.0,3015.2 L1280.0,3070.7 L1281.0,3015.2 L1282.0,3070.7 L1283.0,3015.2 L1283.8,2963.1 L1284.7,3015.2 L1285.6,2963.1 L1286.5,3015.2 L1287.4,2963.1 L1288.3,3015.2 L1289.2,2963.1 L1290.1,3015.2 L1291.0,2963.1 L1291.9,3015.2 L1292.8,2963.1 L1293.7,3015.2 L1294.6,2963.1 L1295.6,2963.1 L1297.0,2909.5 L1298.2,2963.1 L1300.6,2963.1 L1301.4,3015.2 L1302.2,2963.1 L1304.4,2963.1 L1305.4,2909.5 L1306.6,2963.1 L1308.4,2963.1 L1309.4,2909.5 L1310.4,2963.1 L1311.4,3015.2 L1312.4,2963.1 L1313.2,2909.5 L1314.1,2963.1 L1315.0,2909.5 L1315.9,2963.1 L1316.8,2909.5 L1317.7,2963.1 L1318.6,2909.5 L1319.5,2963.1 L1320.4,2909.5 L1321.3,2963.1 L1323.2,3015.2 L1324.4,2963.1 L1325.4,2909.5 L1348.7,2909.5 L1349.0,3175.0 L1349.3,2909.5 L1421.5,2909.5 L1421.8,3228.1 L1422.1,2909.5 L1728.5,2909.5 L1728.8,2963.1 L1729.1,2909.5 L1745.7,2909.5 L1746.0,2963.1 L1746.3,2909.5 L1798.5,2909.5 L1798.8,3228.1 L1799.1,2909.5 L1817.0,2909.5 L1817.3,2963.1 L1817.6,2909.5 L1834.7,2909.5 L1835.0,3015.2 L1835.3,2909.5 L1847.0,2909.5 L1847.3,2963.1 L1847.6,2909.5 L1872.0,2909.5 L1872.3,2963.1 L1872.6,2909.5 L1951.7,2909.5 L1952.0,2963.1 L1952.3,2909.5 L1960.5,2909.5 L1960.8,2963.1 L1961.1,2909.5 L1999.6,2909.5 L2000.0,3389.1 L2000.6,3496.7 L2001.2,3389.1 L2001.8,3496.7 L2013.8,3496.7 L2014.6,3443.3 L2015.4,3496.7 L2177.8,3496.7 L2178.2,2909.5 L2352.9,2909.5" fill="none" stroke="#ff7fee" stroke-width="3.60" stroke-opacity="1.00" stroke-linejoin="round" stroke-linecap="butt"/>
<path d="M329.5,3550.9 L338.3,3550.9 L340.0,3529.7 L341.6,3529.7 L343.0,2909.5 L344.2,2909.5 L348.2,3595.0 L350.4,3550.9 L386.2,3550.9 L388.4,3496.7 L391.0,3550.9 L394.0,3550.9 L395.8,3516.9 L398.0,3529.7 L410.0,3529.4 L430.0,3528.3 L450.0,3529.4 L2352.9,3529.7" fill="none" stroke="#00ccff" stroke-width="5.40" stroke-opacity="1.00" stroke-linejoin="round" stroke-linecap="butt"/>
</g>
<line x1="331.1" y1="3619.7" x2="331.1" y2="3633.9" stroke="#242424" stroke-width="3.3"/>
<text transform="translate(330.9,3674.5) scale(0.955,1)" font-size="42.4" text-anchor="middle" font-family="DejaVu Sans, Liberation Sans, sans-serif">0</text>
<line x1="668.2" y1="3619.7" x2="668.2" y2="3633.9" stroke="#242424" stroke-width="3.3"/>
<text transform="translate(668.0,3674.5) scale(0.955,1)" font-size="42.4" text-anchor="middle" font-family="DejaVu Sans, Liberation Sans, sans-serif">500</text>
<line x1="1005.3" y1="3619.7" x2="1005.3" y2="3633.9" stroke="#242424" stroke-width="3.3"/>
<text transform="translate(1005.1,3674.5) scale(0.955,1)" font-size="42.4" text-anchor="middle" font-family="DejaVu Sans, Liberation Sans, sans-serif">1000</text>
<line x1="1342.4" y1="3619.7" x2="1342.4" y2="3633.9" stroke="#242424" stroke-width="3.3"/>
<text transform="translate(1342.2,3674.5) scale(0.955,1)" font-size="42.4" text-anchor="middle" font-family="DejaVu Sans, Liberation Sans, sans-serif">1500</text>
<line x1="1679.5" y1="3619.7" x2="1679.5" y2="3633.9" stroke="#242424" stroke-width="3.3"/>
<text transform="translate(1679.3,3674.5) scale(0.955,1)" font-size="42.4" text-anchor="middle" font-family="DejaVu Sans, Liberation Sans, sans-serif">2000</text>
<line x1="2016.6" y1="3619.7" x2="2016.6" y2="3633.9" stroke="#242424" stroke-width="3.3"/>
<text transform="translate(2016.4,3674.5) scale(0.955,1)" font-size="42.4" text-anchor="middle" font-family="DejaVu Sans, Liberation Sans, sans-serif">2500</text>
<line x1="2353.7" y1="3619.7" x2="2353.7" y2="3633.9" stroke="#242424" stroke-width="3.3"/>
<text transform="translate(2353.5,3674.5) scale(0.955,1)" font-size="42.4" text-anchor="middle" font-family="DejaVu Sans, Liberation Sans, sans-serif">3000</text>
<line x1="215.2" y1="3531.5" x2="229.2" y2="3531.5" stroke="#242424" stroke-width="3.3"/>
<text transform="translate(202.4,3547.9) scale(0.955,1)" font-size="42.4" text-anchor="end" font-family="DejaVu Sans, Liberation Sans, sans-serif">0</text>
<line x1="215.2" y1="3355.1" x2="229.2" y2="3355.1" stroke="#242424" stroke-width="3.3"/>
<text transform="translate(202.4,3371.5) scale(0.955,1)" font-size="42.4" text-anchor="end" font-family="DejaVu Sans, Liberation Sans, sans-serif">1000</text>
<line x1="215.2" y1="3178.7" x2="229.2" y2="3178.7" stroke="#242424" stroke-width="3.3"/>
<text transform="translate(202.4,3195.1) scale(0.955,1)" font-size="42.4" text-anchor="end" font-family="DejaVu Sans, Liberation Sans, sans-serif">2000</text>
<line x1="215.2" y1="3002.3" x2="229.2" y2="3002.3" stroke="#242424" stroke-width="3.3"/>
<text transform="translate(202.4,3018.7) scale(0.955,1)" font-size="42.4" text-anchor="end" font-family="DejaVu Sans, Liberation Sans, sans-serif">3000</text>
<line x1="215.2" y1="2825.9" x2="229.2" y2="2825.9" stroke="#242424" stroke-width="3.3"/>
<text transform="translate(202.4,2842.3) scale(0.955,1)" font-size="42.4" text-anchor="end" font-family="DejaVu Sans, Liberation Sans, sans-serif">4000</text>
<line x1="215.2" y1="2649.5" x2="229.2" y2="2649.5" stroke="#242424" stroke-width="3.3"/>
<text transform="translate(202.4,2665.9) scale(0.955,1)" font-size="42.4" text-anchor="end" font-family="DejaVu Sans, Liberation Sans, sans-serif">5000</text>
<rect x="229.2" y="2649.5" width="2224.8" height="970.2" fill="none" stroke="#242424" stroke-width="3.4"/>
<text x="1340.2" y="2626.0" font-size="52" text-anchor="middle" font-family="DejaVu Sans, Liberation Sans, sans-serif">DDPG</text>
<text x="1341.6" y="3754.9" font-size="70" text-anchor="middle" font-family="DejaVu Sans, Liberation Sans, sans-serif">episode steps</text>
<text transform="translate(69.0,3140.6) rotate(-90)" font-size="70" text-anchor="middle" font-family="DejaVu Sans, Liberation Sans, sans-serif">score</text>
<rect x="2189.8" y="2666.5" width="247.2" height="169.2" rx="7" ry="7" fill="#fff" fill-opacity="0.8" stroke="#dadada" stroke-width="2.8"/>
<line x1="2202.3" y1="2697.0" x2="2273.5" y2="2697.0" stroke="#93d23f" stroke-width="4.2" stroke-linecap="square"/>
<text x="2300.8" y="2708.9" font-size="34.7" font-family="DejaVu Sans, Liberation Sans, sans-serif">0.0007</text>
<line x1="2202.3" y1="2749.9" x2="2273.5" y2="2749.9" stroke="#ff7fee" stroke-width="3.6" stroke-linecap="square"/>
<text x="2300.8" y="2761.8" font-size="34.7" font-family="DejaVu Sans, Liberation Sans, sans-serif">0.0008</text>
<line x1="2202.3" y1="2802.9" x2="2273.5" y2="2802.9" stroke="#00ccff" stroke-width="5.2" stroke-linecap="square"/>
<text x="2300.8" y="2814.8" font-size="34.7" font-family="DejaVu Sans, Liberation Sans, sans-serif">0.0009</text>
</svg>
</body></html>
